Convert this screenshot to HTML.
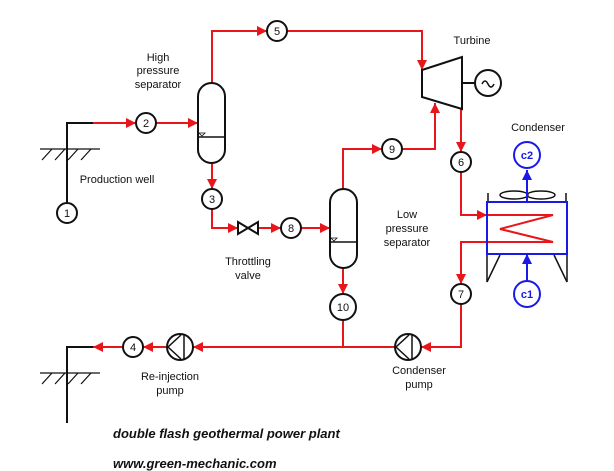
<!DOCTYPE html>
<html><head><style>body{margin:0;background:#fff}svg{display:block}text{font-family:"Liberation Sans",Arial,sans-serif;font-size:11px;fill:#111}</style></head>
<body>
<svg width="614" height="471" viewBox="0 0 614 471" xmlns="http://www.w3.org/2000/svg">
<defs>
<marker id="r" viewBox="0 0 10 10" refX="10" refY="5" markerWidth="5" markerHeight="5" orient="auto"><path d="M0,0L10,5L0,10z" fill="#e8161b"/></marker>
<marker id="b" viewBox="0 0 10 10" refX="10" refY="5" markerWidth="5" markerHeight="5" orient="auto"><path d="M0,0L10,5L0,10z" fill="#1a1ae6"/></marker>
</defs>
<g fill="none" stroke="#111" stroke-width="2">
<polyline points="93,123 67,123 67,203"/>
<polyline points="93,347 67,347 67,423"/>
</g>
<g stroke="#111" stroke-width="1.2">
<line x1="40" y1="149" x2="100" y2="149"/>
<line x1="42" y1="160" x2="52" y2="149"/><line x1="55" y1="160" x2="65" y2="149"/><line x1="68" y1="160" x2="78" y2="149"/><line x1="81" y1="160" x2="91" y2="149"/>
<line x1="40" y1="373" x2="100" y2="373"/>
<line x1="42" y1="384" x2="52" y2="373"/><line x1="55" y1="384" x2="65" y2="373"/><line x1="68" y1="384" x2="78" y2="373"/><line x1="81" y1="384" x2="91" y2="373"/>
</g>
<g fill="none" stroke="#e8161b" stroke-width="2">
<line x1="93" y1="123" x2="136" y2="123" marker-end="url(#r)"/>
<line x1="156" y1="123" x2="198" y2="123" marker-end="url(#r)"/>
<polyline points="212,83 212,31 267,31" marker-end="url(#r)"/>
<polyline points="287,31 422,31 422,70" marker-end="url(#r)"/>
<line x1="212" y1="163" x2="212" y2="189" marker-end="url(#r)"/>
<polyline points="212,209 212,228 238,228" marker-end="url(#r)"/>
<line x1="258" y1="228" x2="281" y2="228" marker-end="url(#r)"/>
<line x1="301" y1="228" x2="330" y2="228" marker-end="url(#r)"/>
<polyline points="343,189 343,149 382,149" marker-end="url(#r)"/>
<polyline points="402,149 435,149 435,103" marker-end="url(#r)"/>
<line x1="461" y1="109" x2="461" y2="152" marker-end="url(#r)"/>
<polyline points="461,172 461,215 487,215" marker-end="url(#r)"/>
<polyline points="487,215 553,215 500,229 553,242 461,242 461,284" marker-end="url(#r)"/>
<line x1="343" y1="268" x2="343" y2="294" marker-end="url(#r)"/>
<line x1="343" y1="320" x2="343" y2="347"/>
<polyline points="461,304 461,347 421,347" marker-end="url(#r)"/>
<line x1="395" y1="347" x2="193" y2="347" marker-end="url(#r)"/>
<line x1="167" y1="347" x2="143" y2="347" marker-end="url(#r)"/>
<line x1="123" y1="347" x2="93" y2="347" marker-end="url(#r)"/>
</g>
<g fill="#fff" stroke="#111" stroke-width="2">
<rect x="198" y="83" width="27" height="80" rx="13.5"/>
<rect x="330" y="189" width="27" height="79" rx="13.5"/>
<polygon points="422,70 462,57 462,109 422,97"/>
<line x1="462" y1="83" x2="475" y2="83"/>
<circle cx="488" cy="83" r="13"/>
<polygon points="238,222 258,234 258,222 238,234"/>
<circle cx="67" cy="213" r="10"/><circle cx="146" cy="123" r="10"/><circle cx="212" cy="199" r="10"/>
<circle cx="277" cy="31" r="10"/><circle cx="291" cy="228" r="10"/><circle cx="392" cy="149" r="10"/>
<circle cx="461" cy="162" r="10"/><circle cx="461" cy="294" r="10"/><circle cx="343" cy="307" r="13"/>
<circle cx="133" cy="347" r="10"/>
<circle cx="180" cy="347" r="13"/><circle cx="408" cy="347" r="13"/>
</g>
<g fill="none" stroke="#111" stroke-width="1.5">
<line x1="198" y1="137" x2="225" y2="137"/><line x1="330" y1="242" x2="357" y2="242"/>
<polyline points="181,335 168,347 181,359"/><line x1="184" y1="335" x2="184" y2="359"/>
<polyline points="409,335 396,347 409,359"/><line x1="412" y1="335" x2="412" y2="359"/>
<path d="M482,84 q3,-6 6,0 t6,0"/>
<line x1="487" y1="255" x2="487" y2="282"/><line x1="500" y1="255" x2="487" y2="282"/>
<line x1="567" y1="255" x2="567" y2="282"/><line x1="554" y1="255" x2="567" y2="282"/>
<ellipse cx="514" cy="195" rx="14" ry="4"/><ellipse cx="541" cy="195" rx="14" ry="4"/>
<line x1="488" y1="202" x2="488" y2="193"/><line x1="566" y1="202" x2="566" y2="193"/>
</g>
<path d="M202,136 l3,-3 h-6z M334,241 l3,-3 h-6z" fill="none" stroke="#111" stroke-width="0.8"/>
<g fill="none" stroke="#1a1ae6" stroke-width="2">
<rect x="487" y="202" width="80" height="52"/>
<line x1="527" y1="202" x2="527" y2="170" marker-end="url(#b)"/>
<line x1="527" y1="281" x2="527" y2="254" marker-end="url(#b)"/>
<circle cx="527" cy="155" r="13" fill="#fff"/><circle cx="527" cy="294" r="13" fill="#fff"/>
</g>
<g text-anchor="middle" font-size="11">
<text x="67" y="217">1</text><text x="146" y="127">2</text><text x="212" y="203">3</text>
<text x="277" y="35">5</text><text x="291" y="232">8</text><text x="392" y="153">9</text>
<text x="461" y="166">6</text><text x="461" y="298">7</text><text x="343" y="311">10</text>
<text x="133" y="351">4</text>
<text x="527" y="159" style="fill:#1a1ae6;font-weight:bold">c2</text>
<text x="527" y="298" style="fill:#1a1ae6;font-weight:bold">c1</text>
<text x="158" y="61">High</text><text x="158" y="74">pressure</text><text x="158" y="88">separator</text>
<text x="117" y="183">Production well</text>
<text x="248" y="265">Throttling</text><text x="248" y="279">valve</text>
<text x="407" y="218">Low</text><text x="407" y="232">pressure</text><text x="407" y="246">separator</text>
<text x="472" y="44">Turbine</text><text x="538" y="131">Condenser</text>
<text x="170" y="380">Re-injection</text><text x="170" y="394">pump</text>
<text x="419" y="374">Condenser</text><text x="419" y="388">pump</text>
</g>
<text x="113" y="438" style="font-size:13px;font-style:italic;font-weight:bold">double flash geothermal power plant</text>
<text x="113" y="468" style="font-size:13px;font-style:italic;font-weight:bold">www.green-mechanic.com</text>
</svg>
</body></html>
